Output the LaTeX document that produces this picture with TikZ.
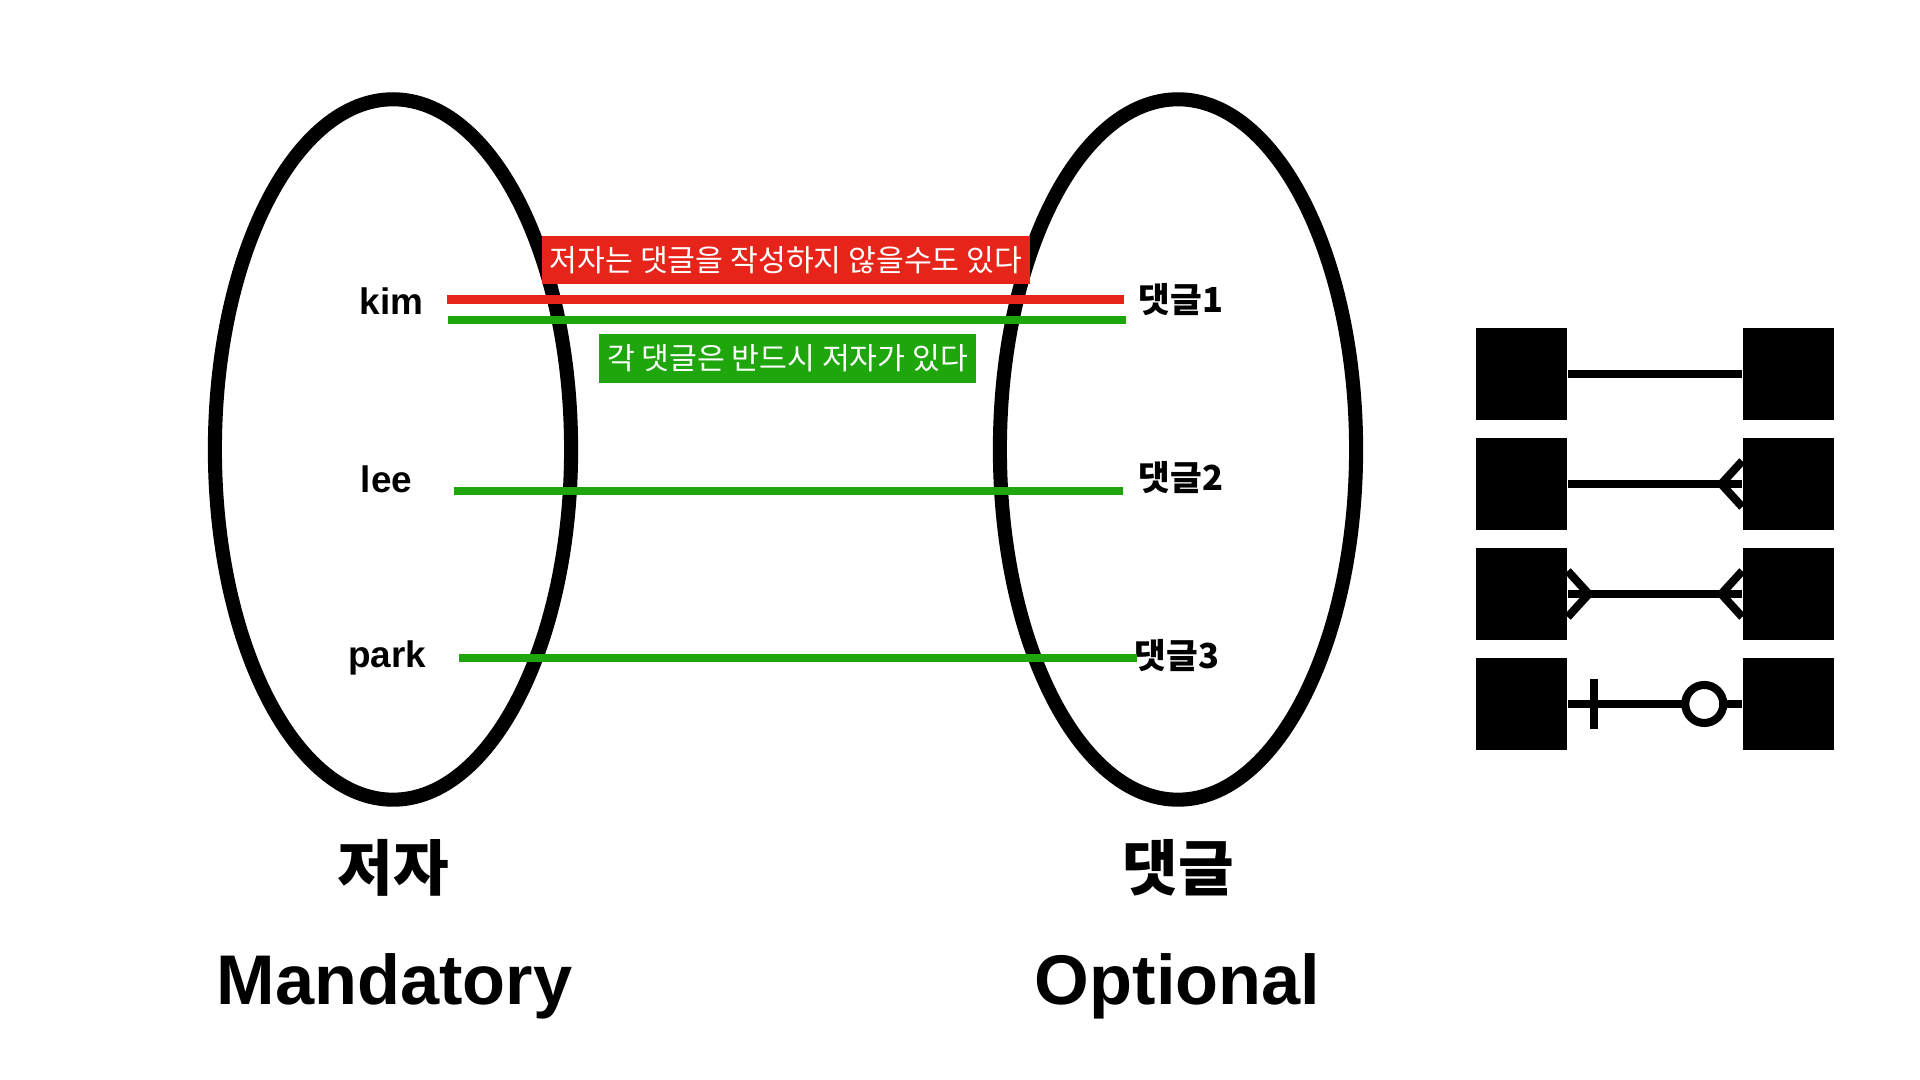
\documentclass[tikz,border=0pt]{standalone}
\usepackage{fontspec}
\setmainfont{Liberation Sans}
\newfontfamily\krfont{Noto Sans CJK KR}
\definecolor{notered}{RGB}{230,36,26}
\definecolor{notegreen}{RGB}{30,166,12}

\begin{document}
\begin{tikzpicture}[x=0.01cm, y=-0.01cm,
    setline/.style={line width=4pt},
    relred/.style={line width=2.3pt, notered},
    relgreen/.style={line width=2.3pt, notegreen},
    memberlbl/.style={inner sep=0pt, font=\fontsize{10.5}{12}\selectfont\bfseries},
    commentlbl/.style={inner sep=0pt, font=\krfont\fontsize{9.8}{12}\selectfont\bfseries},
    notebox/.style={inner sep=0pt, text=white, font=\krfont\fontsize{8.6}{10}\selectfont},
    setname/.style={inner sep=0pt, font=\krfont\fontsize{17.2}{20}\selectfont\bfseries},
    kindname/.style={inner sep=0pt, font=\fontsize{20}{24}\selectfont\bfseries},
    erbox/.style={fill=black, minimum size=0.91cm, inner sep=0pt},
    erline/.style={line width=2.3pt}]

    % --- Canvas ---
    \useasboundingbox (0,0) rectangle (1920,1080);

    % --- Sets ---
    % authors on the left, comments on the right
    \draw[setline] (393,449.5) ellipse [x radius=1.78cm, y radius=3.5cm];
    \draw[setline] (1178,449.5) ellipse [x radius=1.78cm, y radius=3.5cm];

    % --- Members ---
    \node[memberlbl, anchor=base east] (kim) at (424,315) {kim};
    \node[memberlbl, anchor=base east] (lee) at (413,493) {lee};
    \node[memberlbl, anchor=base east] (park) at (427,668) {park};

    \node[commentlbl, anchor=base west] (c1) at (1138,313) {댓글1};
    \node[commentlbl, anchor=base west] (c2) at (1138,491) {댓글2};
    \node[commentlbl, anchor=base west] (c3) at (1134,669) {댓글3};

    % --- Relations ---
    \draw[relred] ([shift={(23,-15.5)}]kim.base east) -- ([shift={(-14,-13.5)}]c1.base west);
    \draw[relgreen] ([shift={(24,5)}]kim.base east) -- ([shift={(-12,7)}]c1.base west);
    \draw[relgreen] ([shift={(41,-2)}]lee.base east) -- ([shift={(-15,0)}]c2.base west);
    \draw[relgreen] ([shift={(32,-10)}]park.base east) -- ([shift={(3,-11)}]c3.base west);

    % --- Notes ---
    \node[notebox, fill=notered, minimum width=4.88cm, minimum height=0.48cm] (optnote) at (786,260)
        {저자는 댓글을 작성하지 않을수도 있다};
    \node[notebox, fill=notegreen, minimum width=3.77cm, minimum height=0.49cm] (mandnote) at (787.5,358.5)
        {각 댓글은 반드시 저자가 있다};

    % --- Set names ---
    \node[setname] (authors) at (393,868) {저자};
    \node[setname] (comments) at (1178.5,868) {댓글};
    \node[kindname, anchor=base] (mand) at (394.5,1005) {Mandatory};
    \node[kindname, anchor=base] (opt) at (1177.5,1005) {Optional};

    % --- ER notation ---
    \foreach \i/\y in {1/374,2/484,3/594,4/704} {
        \node[erbox] (l\i) at (1521.5,\y) {};
        \node[erbox] (r\i) at (1788.5,\y) {};
        \draw[erline] (l\i) -- (r\i);
    }
    % crow's feet
    \draw[erline] ([shift={(0,-23)}]r2.west) -- ([shift={(-21,0)}]r2.west) -- ([shift={(0,23)}]r2.west);
    \draw[erline] ([shift={(0,-23)}]r3.west) -- ([shift={(-21,0)}]r3.west) -- ([shift={(0,23)}]r3.west);
    \draw[erline] ([shift={(0,-23)}]l3.east) -- ([shift={(21,0)}]l3.east) -- ([shift={(0,23)}]l3.east);
    % one bar and ring
    \draw[erline] ([shift={(26,-25)}]l4.east) -- ([shift={(26,25)}]l4.east);
    \node[circle, draw, erline, fill=white, minimum size=0.38cm, inner sep=0pt] (ring) at ([shift={(-38,0)}]r4.west) {};

\end{tikzpicture}
\end{document}
